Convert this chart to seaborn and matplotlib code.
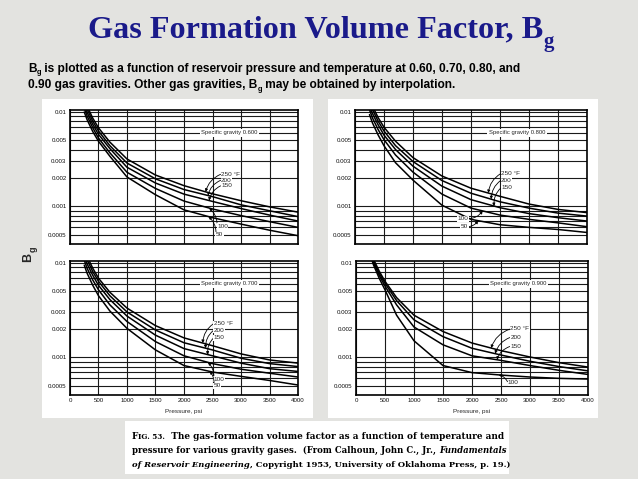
import numpy as np
import pandas as pd
import matplotlib
matplotlib.use('Agg')
from matplotlib import pyplot as plt
from matplotlib import font_manager
from matplotlib.ticker import FixedLocator, FixedFormatter, NullFormatter
import seaborn as sns

# --- data (Bg in bbl/scf) ---
pressure = [250, 300, 400, 500, 700, 1000, 1500, 2000, 2500, 3000, 3500, 4000]

# specific gravity 0.600
g60_t250 = [0.0138, 0.0115, 0.0086, 0.0068, 0.0048, 0.00318, 0.00215, 0.00166, 0.00136, 0.00115, 0.00099, 0.00087]
g60_t200 = [0.0129, 0.0107, 0.0080, 0.0063, 0.0044, 0.00288, 0.00196, 0.00151, 0.00127, 0.00104, 0.00090, 0.00078]
g60_t150 = [0.0120, 0.0099, 0.0074, 0.0058, 0.0041, 0.00260, 0.00177, 0.00135, 0.00113, 0.00095, 0.00081, 0.00070]
g60_t100 = [0.0110, 0.0091, 0.0068, 0.0053, 0.0037, 0.00230, 0.00155, 0.00114, 0.00094, 0.00080, 0.00069, 0.00060]
g60_t50 = [0.0100, 0.0083, 0.0062, 0.0049, 0.0034, 0.00205, 0.00133, 0.00092, 0.00076, 0.00065, 0.00056, 0.00049]

# specific gravity 0.800
g80_t250 = [0.0141, 0.0116, 0.0087, 0.0069, 0.0049, 0.00329, 0.00210, 0.00156, 0.00128, 0.00106, 0.00093, 0.00086]
g80_t200 = [0.0130, 0.0107, 0.0080, 0.0063, 0.0044, 0.00299, 0.00188, 0.00138, 0.00112, 0.00096, 0.00085, 0.00079]
g80_t150 = [0.0118, 0.0097, 0.0073, 0.0057, 0.0040, 0.00267, 0.00164, 0.00118, 0.00097, 0.00084, 0.00076, 0.00070]
g80_t100 = [0.0106, 0.0087, 0.0065, 0.0051, 0.0035, 0.00231, 0.00135, 0.00096, 0.00081, 0.00073, 0.00067, 0.00061]
g80_t50 = [0.0094, 0.0077, 0.0057, 0.0044, 0.0029, 0.00190, 0.00103, 0.00073, 0.00064, 0.00060, 0.00057, 0.00053]

# specific gravity 0.700
g70_t250 = [0.0141, 0.0117, 0.0088, 0.0069, 0.0049, 0.00333, 0.00217, 0.00161, 0.00133, 0.00109, 0.00094, 0.00087]
g70_t200 = [0.0130, 0.0108, 0.0081, 0.0064, 0.0045, 0.00303, 0.00195, 0.00143, 0.00120, 0.00098, 0.00086, 0.00080]
g70_t150 = [0.0119, 0.0098, 0.0074, 0.0058, 0.0041, 0.00274, 0.00172, 0.00124, 0.00104, 0.00087, 0.00076, 0.00071]
g70_t100 = [0.0107, 0.0088, 0.0066, 0.0052, 0.0036, 0.00240, 0.00147, 0.00104, 0.00086, 0.00075, 0.00068, 0.00062]
g70_t50 = [0.0095, 0.0078, 0.0058, 0.0045, 0.0031, 0.00203, 0.00120, 0.00082, 0.00070, 0.00063, 0.00057, 0.00051]

# specific gravity 0.900
g90_t250 = [0.0135, 0.0110, 0.0082, 0.0064, 0.0043, 0.00280, 0.00188, 0.00142, 0.00118, 0.00101, 0.00088, 0.00079]
g90_t200 = [0.0128, 0.0105, 0.0078, 0.0061, 0.0040, 0.00250, 0.00166, 0.00125, 0.00106, 0.00091, 0.00080, 0.00072]
g90_t150 = [0.0124, 0.0101, 0.0074, 0.0057, 0.0036, 0.00210, 0.00136, 0.00104, 0.00093, 0.00082, 0.00073, 0.00066]
g90_t100 = [0.0120, 0.0096, 0.0069, 0.0052, 0.0028, 0.00150, 0.00082, 0.00069, 0.00065, 0.00062, 0.00060, 0.00059]

y_labelled = [0.0005, 0.001, 0.002, 0.003, 0.005, 0.01]
y_labels = ['0.0005', '0.001', '0.002', '0.003', '0.005', '0.01']
y_minor = [0.0004, 0.0006, 0.0007, 0.0008, 0.0009, 0.004, 0.006, 0.007, 0.008, 0.009]
x_ticks = [0, 500, 1000, 1500, 2000, 2500, 3000, 3500, 4000]

sns.set_style('white')
have = {f.name for f in font_manager.fontManager.ttflist}
SANS = ['Liberation Sans', 'DejaVu Sans']
plt.rcParams['font.family'] = SANS
NARROW = 'Liberation Sans Narrow' if 'Liberation Sans Narrow' in have else None

fig = plt.figure(figsize=(6.38, 4.79), dpi=100)
fig.patch.set_facecolor('#e3e3e0')

bg = fig.add_axes([0, 0, 1, 1], zorder=0)
bg.set_axis_off()
bg.set_xlim(0, 1)
bg.set_ylim(0, 1)
for rect in [(0.0658, 0.1273, 0.4248, 0.6660),
             (0.5141, 0.1273, 0.4232, 0.6660),
             (0.1959, 0.0104, 0.6019, 0.1106)]:
    bg.add_patch(plt.Rectangle(rect[:2], rect[2], rect[3], facecolor='white', edgecolor='none'))


def chain(parts, x, y, **base):
    # write text pieces one after another on a shared baseline
    first = bg.text(x, y, parts[0][0], va='baseline', ha='left', **{**base, **parts[0][1]})
    prev = first
    for txt, kw, dy in parts[1:]:
        prev = bg.annotate(txt, xy=(1, 0), xycoords=(prev, first), xytext=(0, dy),
                           textcoords='offset points', va='bottom', ha='left',
                           annotation_clip=False, **{**base, **kw})


def curve_y(vals, p):
    return 10 ** np.interp(p, pressure, np.log10(vals))


def draw_panel(pos, curves, sg_text, labels, show_x):
    ax = fig.add_axes(pos, zorder=2)
    frames = [pd.DataFrame({'Pressure': pressure, 'Bg': v, 'Temp': t}) for t, v in curves.items()]
    df = pd.concat(frames, ignore_index=True)
    sns.lineplot(data=df, x='Pressure', y='Bg', hue='Temp',
                 palette={t: 'black' for t in curves}, estimator=None,
                 legend=False, lw=1.1, ax=ax)
    ax.set_yscale('log')
    ax.set_xlim(0, 4000)
    ax.set_ylim(0.0004, 0.0105)
    ax.yaxis.set_major_locator(FixedLocator(y_labelled))
    ax.yaxis.set_major_formatter(FixedFormatter(y_labels))
    ax.yaxis.set_minor_locator(FixedLocator(y_minor))
    ax.yaxis.set_minor_formatter(NullFormatter())
    ax.xaxis.set_major_locator(FixedLocator(x_ticks))
    ax.grid(True, which='both', color='#1a1a1a', lw=0.8)
    ax.tick_params(which='both', length=0, labelsize=4.4, pad=2.5, colors='#111111')
    if show_x:
        ax.set_xlabel('Pressure, psi', fontsize=4.6, labelpad=4)
    else:
        ax.set_xlabel('')
        ax.set_xticklabels([])
    ax.set_ylabel('')
    for s in ax.spines.values():
        s.set_color('black')
        s.set_linewidth(1.2)

    ax.text(2800, 0.006, sg_text, fontsize=4.2, ha='center', va='center',
            bbox=dict(facecolor='white', edgecolor='none', pad=1.2))
    for txt, tx, ty, key, px, ha in labels:
        ax.annotate(txt, xy=(px, curve_y(curves[key], px)), xytext=(tx, ty),
                    fontsize=4.6, ha=ha, va='center',
                    bbox=dict(facecolor='white', edgecolor='none', pad=0.3),
                    arrowprops=dict(arrowstyle='-|>', lw=0.6, color='black',
                                    mutation_scale=4, shrinkA=0, shrinkB=0,
                                    relpos=(0 if ha == 'left' else 1, 0.5),
                                    connectionstyle='arc3,rad=0.25'))
    return ax


draw_panel([0.1097, 0.4906, 0.3574, 0.2797],
           {'250': g60_t250, '200': g60_t200, '150': g60_t150, '100': g60_t100, '50': g60_t50},
           'Specific gravity 0.600',
           [('250 °F', 2650, 0.0022, '250', 2380, 'left'),
            ('200', 2650, 0.0019, '200', 2420, 'left'),
            ('150', 2650, 0.00166, '150', 2440, 'left'),
            ('100', 2580, 0.00062, '100', 2440, 'left'),
            ('50', 2560, 0.0005, '50', 2430, 'left')],
           False)

draw_panel([0.5564, 0.4906, 0.3636, 0.2797],
           {'250': g80_t250, '200': g80_t200, '150': g80_t150, '100': g80_t100, '50': g80_t50},
           'Specific gravity 0.800',
           [('250 °F', 2520, 0.00224, '250', 2300, 'left'),
            ('200', 2520, 0.0019, '200', 2350, 'left'),
            ('150', 2520, 0.00158, '150', 2400, 'left'),
            ('100', 1950, 0.00074, '100', 2200, 'right'),
            ('50', 1950, 0.00061, '50', 2120, 'right')],
           False)

draw_panel([0.1097, 0.1754, 0.3574, 0.2797],
           {'250': g70_t250, '200': g70_t200, '150': g70_t150, '100': g70_t100, '50': g70_t50},
           'Specific gravity 0.700',
           [('250 °F', 2520, 0.00228, '250', 2330, 'left'),
            ('200', 2520, 0.00194, '200', 2380, 'left'),
            ('150', 2520, 0.00161, '150', 2420, 'left'),
            ('100', 2520, 0.00059, '100', 2420, 'left'),
            ('50', 2520, 0.0005, '50', 2450, 'left')],
           True)

draw_panel([0.5580, 0.1754, 0.3636, 0.2797],
           {'250': g90_t250, '200': g90_t200, '150': g90_t150, '100': g90_t100},
           'Specific gravity 0.900',
           [('250 °F', 2660, 0.002, '250', 2330, 'left'),
            ('200', 2660, 0.00163, '200', 2400, 'left'),
            ('150', 2660, 0.00131, '150', 2430, 'left'),
            ('100', 2620, 0.00054, '100', 2460, 'left')],
           True)

# title
chain([('Gas Formation Volume Factor, B', {}, 0), ('g', {'fontsize': 15}, -5.5)],
      0.138, 0.9227, family=['Liberation Serif', 'DejaVu Serif'], weight='bold',
      fontsize=23.2, color='#1a1a8a')

# subtitle
if NARROW:
    sub_kw = dict(family=[NARROW, 'DejaVu Sans'], weight='bold', fontsize=10.2, color='black')
else:
    sub_kw = dict(family=SANS, weight='bold', fontsize=8.6, color='black')
sub_size = sub_kw['fontsize'] * 0.62
chain([('B', {}, 0), ('g', {'fontsize': sub_size}, -1.0),
       (' is plotted as a function of reservoir pressure and temperature at 0.60, 0.70, 0.80, and', {}, 0)],
      0.0439, 0.8497, **sub_kw)
chain([('0.90 gas gravities. Other gas gravities, B', {}, 0), ('g', {'fontsize': sub_size}, -1.0),
       (' may be obtained by interpolation.', {}, 0)],
      0.0439, 0.8155, **sub_kw)

# rotated Bg label
bg.text(0.0439, 0.4624, 'B', rotation=90, ha='center', va='center', fontsize=9, weight='bold')
bg.text(0.0520, 0.4790, 'g', rotation=90, ha='center', va='center', fontsize=6.5, weight='bold')

# caption of the scanned figure (sizes per line so each line fills the box, as justified)
cap_kw = dict(family=['DejaVu Serif', 'Liberation Serif'], weight='bold', color='black')
chain([('F', {'fontsize': 6.4}, 0), ('IG. 53.', {'fontsize': 5.2}, 0),
       ('  The gas-formation volume factor as a function of temperature and', {'fontsize': 6.4}, 0)],
      0.2069, 0.0842, **cap_kw)
chain([('pressure for various gravity gases.  (From Calhoun, John C., Jr., ', {'fontsize': 6.15}, 0),
       ('Fundamentals', {'style': 'italic', 'fontsize': 6.15}, 0)],
      0.2069, 0.0543, **cap_kw)
chain([('of Reservoir Engineering', {'style': 'italic', 'fontsize': 6.0}, 0),
       (', Copyright 1953, University of Oklahoma Press, p. 19.)', {'fontsize': 6.0}, 0)],
      0.2069, 0.0244, **cap_kw)

fig.savefig('out.png', dpi=100, facecolor=fig.get_facecolor())
